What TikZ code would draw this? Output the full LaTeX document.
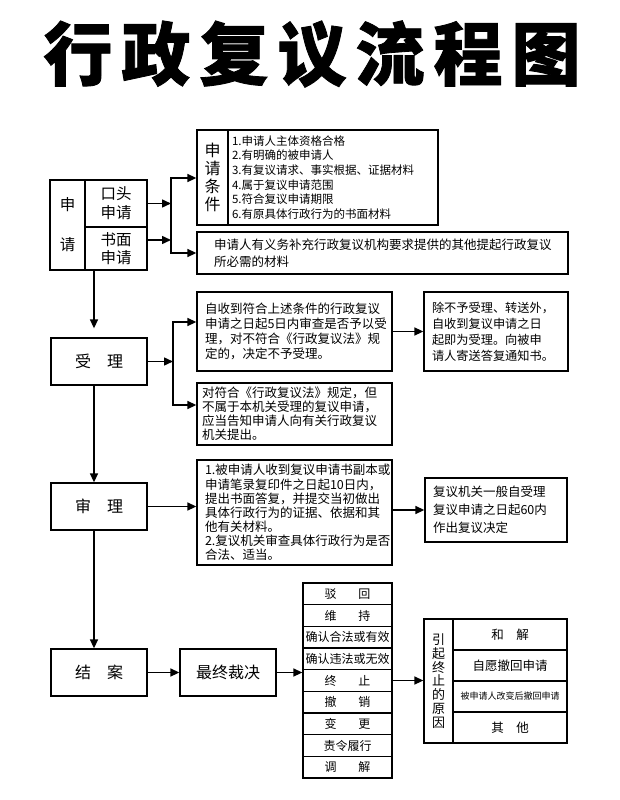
\documentclass[tikz,border=0pt]{standalone}
\usepackage{fontspec}
\setmainfont{Noto Sans CJK SC}
\newfontfamily\titlefont{Noto Sans CJK SC}[BoldFeatures={FakeBold=1.2}]
\usetikzlibrary{arrows.meta,calc}
\newcommand\tsp{\hspace{9pt}}
\begin{document}
\begin{tikzpicture}[x=1pt,y=-1pt,
  bx/.style={draw,line width=1.3pt,inner sep=0pt},
  mainbox/.style={bx,minimum width=96pt,minimum height=47pt,font=\fontsize{16}{18}\selectfont},
  txt/.style={bx,align=left,inner xsep=8pt,font=\fontsize{12.5}{14.5}\selectfont},
  row/.style={bx,minimum width=89pt,minimum height=21.67pt,font=\fontsize{12}{14}\selectfont},
  rrow/.style={bx,minimum width=114pt,minimum height=31pt,font=\fontsize{12.5}{14}\selectfont},
  arr/.style={line width=1.5pt,-{Triangle[length=9pt,width=8pt]}}]
\useasboundingbox[fill=white] (0,0) rectangle (619,800);
% title
\node (title) at (312,54) {\titlefont\fontsize{69}{69}\selectfont\bfseries 行\tsp 政\tsp 复\tsp 议\tsp 流\tsp 程\tsp 图};
% application
\node[bx,minimum width=35pt,minimum height=90pt,align=center,font=\fontsize{15.5}{40}\selectfont] (sq) at (67.5,225) {申\\请};
\node[bx,minimum width=62pt,minimum height=47pt,align=center,font=\fontsize{15.5}{19}\selectfont] (kt) at (116,203.5) {口头\\申请};
\node[bx,minimum width=62pt,minimum height=43pt,align=center,font=\fontsize{15.5}{18}\selectfont] (sm) at (116,248.5) {书面\\申请};
\node[bx,minimum width=31pt,minimum height=95pt,align=center,font=\fontsize{16}{18}\selectfont] (condl) at (212.5,177.5) {申\\请\\条\\件};
\node[txt,inner xsep=4pt,text width=202pt,minimum height=95pt,font=\fontsize{11.5}{14.6}\selectfont] (cond) at (333,177.5) {1.申请人主体资格合格\\2.有明确的被申请人\\3.有复议请求、事实根据、证据材料\\4.属于复议申请范围\\5.符合复议申请期限\\6.有原具体行政行为的书面材料};
\node[txt,inner xsep=17pt,text width=337pt,minimum height=42pt,font=\fontsize{12.5}{17}\selectfont] (supp) at (382.5,253) {申请人有义务补充行政复议机构要求提供的其他提起行政复议\\所必需的材料};
\coordinate (ja) at (171,178);
\coordinate (jb) at (171,253);
\coordinate (smy) at (0,240);
\draw[arr] (kt.east) -- (kt.east -| ja);
\draw[arr] (sm.east |- smy) -- (ja |- smy);
\draw[arr] (jb) -- (ja) -- (condl.west |- ja);
\draw[arr] (ja) -- (jb) -- (supp.west |- jb);
% acceptance
\coordinate (xm) at (94,0);
\node[mainbox] (sl) at (99,361.5) {受\hspace{1em}理};
\draw[arr,shorten >=9pt] (sm.south -| xm) -- (sl.north -| xm);
\node[txt,text width=179pt,minimum height=79pt,font=\fontsize{12.5}{15}\selectfont] (acc1) at (294.5,331.5) {自收到符合上述条件的行政复议\\申请之日起5日内审查是否予以受\\理，对不符合《行政复议法》规\\定的，决定不予受理。};
\node[txt,text width=128pt,minimum height=79pt,font=\fontsize{12.2}{16}\selectfont] (acc3) at (496,331.5) {除不予受理、转送外，\\自收到复议申请之日\\起即为受理。向被申\\请人寄送答复通知书。};
\node[txt,inner xsep=5pt,text width=185pt,minimum height=62pt,font=\fontsize{12.5}{14}\selectfont] (acc2) at (294.5,414) {对符合《行政复议法》规定，但\\不属于本机关受理的复议申请，\\应当告知申请人向有关行政复议\\机关提出。};
\coordinate (jc) at (173,322);
\coordinate (jd) at (173,405);
\draw[arr] (sl.east) -- (sl.east -| jc);
\draw[arr] (jd) -- (jc) -- (acc1.west |- jc);
\draw[arr] (jc) -- (jd) -- (acc2.west |- jd);
\draw[arr] (acc1.east) -- (acc3.west);
% review
\node[mainbox] (sh) at (99,506.5) {审\hspace{1em}理};
\draw[arr] (sl.south -| xm) -- (sh.north -| xm);
\node[txt,text width=179pt,minimum height=105pt,font=\fontsize{12.5}{14.1}\selectfont] (rev1) at (294.5,512.5) {1.被申请人收到复议申请书副本或\\申请笔录复印件之日起10日内，\\提出书面答复，并提交当初做出\\具体行政行为的证据、依据和其\\他有关材料。\\2.复议机关审查具体行政行为是否\\合法、适当。};
\node[txt,text width=126pt,minimum height=64pt,font=\fontsize{12.5}{18}\selectfont] (rev2) at (496,510) {复议机关一般自受理\\复议申请之日起60内\\作出复议决定};
\draw[arr] (sh.east) -- (sh.east -| rev1.west);
\draw[arr] (rev1.east |- rev2.west) -- (rev2.west);
% closing
\node[mainbox] (ja2) at (99,672.5) {结\hspace{1em}案};
\draw[arr] (sh.south -| xm) -- (ja2.north -| xm);
\node[mainbox] (zz) at (228,672.5) {最终裁决};
\draw[arr] (ja2.east) -- (zz.west);
\node[row] (r1) at (347.5,593.8) {驳\hspace{1.8em}回};
\node[row] (r2) at (347.5,615.5) {维\hspace{1.8em}持};
\node[row] (r3) at (347.5,637.2) {确认合法或有效};
\node[row] (r4) at (347.5,658.8) {确认违法或无效};
\node[row] (r5) at (347.5,680.5) {终\hspace{1.8em}止};
\node[row] (r6) at (347.5,702.2) {撤\hspace{1.8em}销};
\node[row] (r7) at (347.5,723.8) {变\hspace{1.8em}更};
\node[row] (r8) at (347.5,745.5) {责令履行};
\node[row] (r9) at (347.5,767.2) {调\hspace{1.8em}解};
\draw[arr] (zz.east) -- (zz.east -| r5.west);
\node[bx,minimum width=29pt,minimum height=124pt,align=center,font=\fontsize{13}{13.8}\selectfont] (rl) at (438.5,681) {引\\起\\终\\止\\的\\原\\因};
\node[rrow] (q1) at (510,634.5) {和\hspace{1em}解};
\node[rrow] (q2) at (510,665.5) {自愿撤回申请};
\node[rrow,font=\fontsize{9}{11}\selectfont] (q3) at (510,696.5) {被申请人改变后撤回申请};
\node[rrow] (q4) at (510,727.5) {其\hspace{1em}他};
\draw[arr] (r5.east) -- (r5.east -| rl.west);
\end{tikzpicture}
\end{document}
